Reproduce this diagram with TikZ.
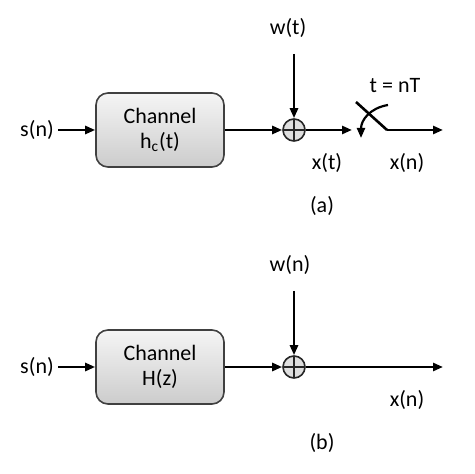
\documentclass[tikz,border=0pt]{standalone}
\usepackage{fontspec}
\setmainfont{Carlito}
\usetikzlibrary{arrows.meta,positioning,calc}

\begin{document}
\begin{tikzpicture}[
    x=0.5pt, y=-0.5pt,
    font=\fontsize{11}{12.5}\selectfont,
    chan/.style={rectangle, draw=black!75, rounded corners=6pt, minimum width=64pt, minimum height=37pt, align=center, top color=gray!8, bottom color=gray!40, line width=0.8pt},
    adder/.style={circle, draw=black!85, fill=gray!25, minimum size=11pt, inner sep=0pt, line width=0.8pt,
        path picture={\draw[line width=0.6pt] (path picture bounding box.north) -- (path picture bounding box.south)
            (path picture bounding box.west) -- (path picture bounding box.east);}},
    lbl/.style={inner sep=2pt},
    arr/.style={-{Triangle[length=5pt,width=4pt]}, line width=1.3pt},
]
\useasboundingbox (0,0) rectangle (474,474);

% (a) continuous-time channel with sampler
\node[chan] (cha) at (160,130) {Channel\\h\textsubscript{c}(t)};
\node[lbl] (sa) at (37,130) {s(n)};
\node[adder] (suma) at (294,130) {};
\coordinate (wina) at (294,54);
\node[lbl] (wa) at (288,28) {w(t)};
\coordinate (xta) at (352,130);
\node[lbl] (xa) at (327,163) {x(t)};
\coordinate (swa) at (356,102);
\coordinate (swb) at (387,130);
\coordinate (outa) at (443,130);
\coordinate (cva) at (388,105);
\coordinate (cvb) at (361,138);
\node[lbl] (ta) at (395,86) {t = nT};
\node[lbl] (xna) at (407,163) {x(n)};
\node[lbl] (capa) at (322,206) {(a)};

\draw[arr] (sa) -- (cha);
\draw[arr] (cha) -- (suma);
\draw[arr] (wina) -- (suma);
\draw[arr] (suma) -- (xta);
\draw[line width=1.3pt] (swa) -- (swb);
\draw[arr] (swb) -- (outa);
\draw[arr, line width=1.1pt] (cva) .. controls (370,108) and (361,120) .. (cvb);

% (b) discrete-time equivalent
\node[chan] (chb) at (160,367) {Channel\\H(z)};
\node[lbl] (sb) at (37,367) {s(n)};
\node[adder] (sumb) at (294,367) {};
\coordinate (winb) at (294,291);
\node[lbl] (wb) at (290,265) {w(n)};
\coordinate (outb) at (443,367);
\node[lbl] (xnb) at (407,400) {x(n)};
\node[lbl] (capb) at (322,443) {(b)};

\draw[arr] (sb) -- (chb);
\draw[arr] (chb) -- (sumb);
\draw[arr] (winb) -- (sumb);
\draw[arr] (sumb) -- (outb);

\end{tikzpicture}
\end{document}
